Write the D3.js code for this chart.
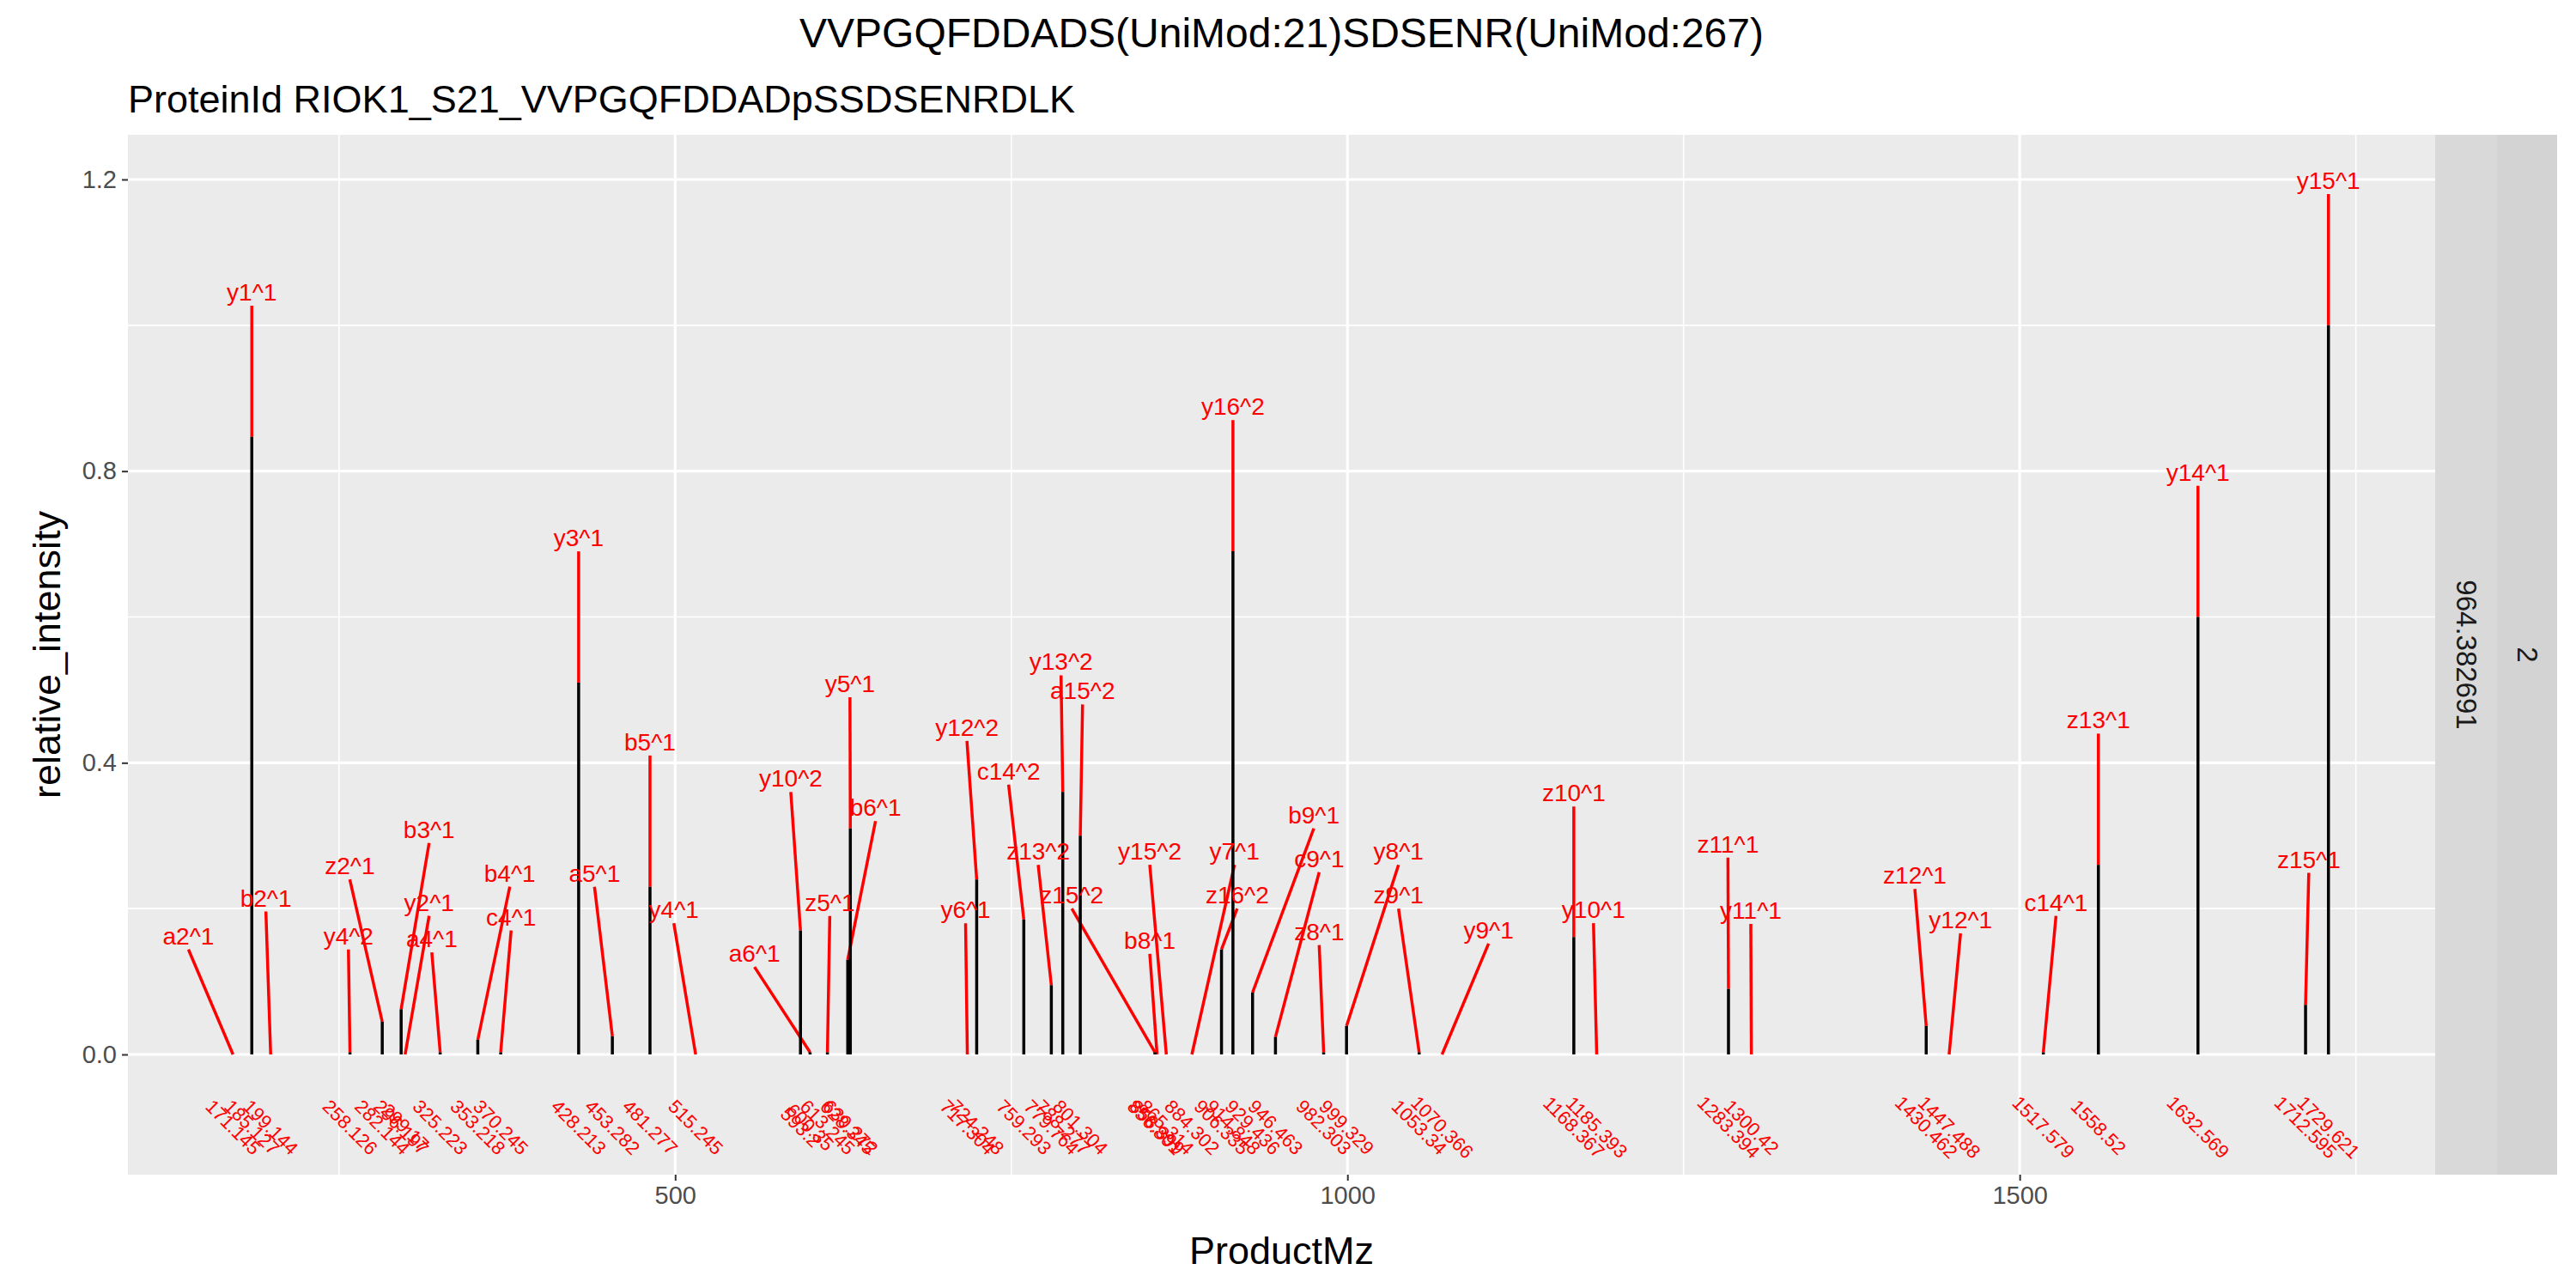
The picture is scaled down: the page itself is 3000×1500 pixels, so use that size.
<!DOCTYPE html>
<html><head><meta charset="utf-8">
<script src="https://cdn.jsdelivr.net/npm/d3@7"></script>
<style>body{margin:0;background:#fff}</style></head>
<body><svg id="c" width="3000" height="1500"></svg>
<script>
// Fragment ions
const ions   = ["a2^1","y1^1","b2^1","y4^2","z2^1","b3^1","y2^1","a4^1","b4^1","c4^1","y3^1","a5^1","b5^1","y4^1","y10^2","a6^1","z5^1","b6^1","y5^1","y6^1","y12^2","c14^2","z13^2","y13^2","a15^2","z15^2","b8^1","y15^2","y7^1","z16^2","y16^2","b9^1","c9^1","z8^1","y8^1","z9^1","y9^1","z10^1","y10^1","z11^1","y11^1","z12^1","y12^1","c14^1","z13^1","y14^1","z15^1","y15^1"];
const mzs    = [171.145,185.127,199.144,258.126,282.144,296.197,299.17,325.223,353.218,370.245,428.213,453.282,481.277,515.245,593.2,600.35,613.245,628.345,630.272,717.304,724.248,759.293,779.764,788.277,801.304,856.801,858.399,865.314,884.302,906.335,914.848,929.436,946.463,982.303,999.329,1053.34,1070.366,1168.367,1185.393,1283.394,1300.42,1430.462,1447.488,1517.579,1558.52,1632.569,1712.595,1729.621];
const observed = [0,0.847,0,0.003,0.045,0.062,0,0.003,0.02,0.003,0.51,0.025,0.23,0,0.17,0.003,0.003,0.13,0.31,0,0.24,0.185,0.095,0.36,0.3,0.003,0,0,0,0.144,0.69,0.085,0.024,0.003,0.039,0.003,0,0.161,0,0.09,0,0.039,0,0.003,0.26,0.6,0.068,1.0];
const labelMz  = [138,185.127,195.6,257,258,317,317,319,377,378,428.213,440,481.277,499,586,559,615,649,630,716,717,748,770,787,803,795,853,853,916,918,914.848,975,979,979,1038,1038,1105,1168.367,1183,1283,1300,1422,1456,1527,1558.52,1632.569,1715,1729.621];
const labelInt = [0.144,1.027,0.196,0.144,0.24,0.29,0.19,0.14,0.23,0.17,0.69,0.23,0.41,0.18,0.36,0.12,0.19,0.32,0.49,0.18,0.43,0.37,0.26,0.52,0.48,0.2,0.138,0.26,0.26,0.2,0.87,0.31,0.25,0.15,0.26,0.2,0.152,0.34,0.18,0.27,0.179,0.227,0.166,0.19,0.44,0.78,0.249,1.18];
const xTicks = [500,1000,1500];
const yTicks = [0.0,0.4,0.8,1.2];
const xMinor = [250,750,1250,1750];
const yMinor = [0.2,0.6,1.0];
const stripLabels = ["964.382691","2"];

const svg = d3.select("#c");
const L=149,R=2836,T=157,B=1368;
const x = d3.scaleLinear().domain([93,1809]).range([L,R]);
const y = d3.scaleLinear().domain([0,1.2]).range([1228,209]);
const F = "Liberation Sans, Arial, sans-serif";

svg.append("rect").attr("x",L).attr("y",T).attr("width",R-L).attr("height",B-T).attr("fill","#EBEBEB");
const g = svg.append("g");
xMinor.filter(v=>x(v)<R).forEach(v=>g.append("line").attr("x1",x(v)).attr("x2",x(v)).attr("y1",T).attr("y2",B).attr("stroke","#fff").attr("stroke-width",1.6));
yMinor.forEach(v=>g.append("line").attr("x1",L).attr("x2",R).attr("y1",y(v)).attr("y2",y(v)).attr("stroke","#fff").attr("stroke-width",1.6));
xTicks.forEach(v=>g.append("line").attr("x1",x(v)).attr("x2",x(v)).attr("y1",T).attr("y2",B).attr("stroke","#fff").attr("stroke-width",3.2));
yTicks.forEach(v=>g.append("line").attr("x1",L).attr("x2",R).attr("y1",y(v)).attr("y2",y(v)).attr("stroke","#fff").attr("stroke-width",3.2));

const idx = d3.range(ions.length);
g.selectAll(".seg").data(idx).enter().append("line")
 .attr("x1",i=>x(mzs[i])).attr("y1",i=>y(observed[i]))
 .attr("x2",i=>x(labelMz[i])).attr("y2",i=>y(labelInt[i]))
 .attr("stroke","#FF0000").attr("stroke-width",3.5);
g.selectAll(".bar").data(idx.filter(i=>observed[i]>0)).enter().append("line")
 .attr("x1",i=>x(mzs[i])).attr("x2",i=>x(mzs[i])).attr("y1",y(0)).attr("y2",i=>y(observed[i]))
 .attr("stroke","#000").attr("stroke-width",3.5);
g.selectAll(".lab").data(idx).enter().append("text")
 .attr("x",i=>x(labelMz[i])).attr("y",i=>y(labelInt[i])-6)
 .attr("text-anchor","middle").attr("font-family",F).attr("font-size",28).attr("fill","#FF0000")
 .text(i=>ions[i]);
g.selectAll(".mz").data(idx).enter().append("text")
 .attr("transform",i=>`translate(${x(mzs[i])},${y(-0.1)}) rotate(45)`)
 .attr("text-anchor","middle").attr("dominant-baseline","central")
 .attr("font-family",F).attr("font-size",22).attr("fill","#FF0000")
 .text(i=>String(mzs[i]));

const ax = svg.append("g").attr("transform",`translate(0,${B})`)
 .call(d3.axisBottom(x).tickValues(xTicks).tickSize(7).tickPadding(6).tickFormat(d3.format("d")));
const ay = svg.append("g").attr("transform",`translate(${L},0)`)
 .call(d3.axisLeft(y).tickValues(yTicks).tickSize(7).tickPadding(6).tickFormat(d3.format(".1f")));
[ax,ay].forEach(a=>{a.select(".domain").remove();
 a.selectAll("line").attr("stroke","#333").attr("stroke-width",2);
 a.selectAll("text").attr("font-family",F).attr("font-size",29).attr("fill","#4D4D4D");});

[[2836,2908],[2908,2978]].forEach((s,k)=>{
 svg.append("rect").attr("x",s[0]).attr("y",T).attr("width",s[1]-s[0]).attr("height",B-T).attr("fill",k==0?"#D9D9D9":"#D3D3D3");
 svg.append("text").attr("transform",`translate(${(s[0]+s[1])/2},${(T+B)/2}) rotate(90)`)
  .attr("text-anchor","middle").attr("dominant-baseline","central")
  .attr("font-family",F).attr("font-size",33).attr("fill","#1A1A1A").text(stripLabels[k]);
});

svg.append("text").attr("x",(L+R)/2).attr("y",55).attr("text-anchor","middle")
 .attr("font-family",F).attr("font-size",48).attr("fill","#000").text("VVPGQFDDADS(UniMod:21)SDSENR(UniMod:267)");
svg.append("text").attr("x",L).attr("y",131)
 .attr("font-family",F).attr("font-size",45).attr("fill","#000").text("ProteinId RIOK1_S21_VVPGQFDDADpSSDSENRDLK");
svg.append("text").attr("x",(L+R)/2).attr("y",1472).attr("text-anchor","middle")
 .attr("font-family",F).attr("font-size",45).attr("fill","#000").text("ProductMz");
svg.append("text").attr("transform",`translate(70,${(T+B)/2}) rotate(-90)`).attr("text-anchor","middle")
 .attr("font-family",F).attr("font-size",45).attr("fill","#000").text("relative_intensity");
</script></body></html>
